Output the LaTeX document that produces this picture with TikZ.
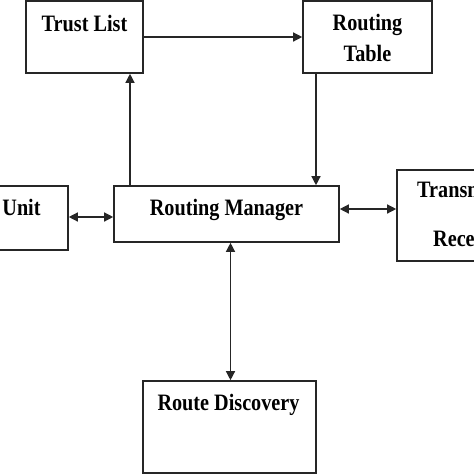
\documentclass[tikz,border=0pt]{standalone}
\usepackage{fontspec}
\setmainfont{Liberation Serif}
\usetikzlibrary{arrows.meta}
\newcommand{\lbltxt}[1]{\scalebox{0.86}[1]{#1}}
\tikzset{
  box/.style={draw=black!85, line width=1.6pt, rectangle, inner sep=0pt},
  lbl/.style={inner sep=0pt, font=\fontsize{23.5}{26}\selectfont\bfseries},
  conn/.style={draw=black!85, line width=1.3pt},
  arr/.style={conn, -{Triangle[length=9pt,width=9pt]}},
  darr/.style={conn, {Triangle[length=9pt,width=9pt]}-{Triangle[length=9pt,width=9pt]}}
}
\begin{document}
\begin{tikzpicture}[x=1pt,y=-1pt]
\useasboundingbox (0,0) rectangle (474,474);
\clip (0,0) rectangle (474,474);
\fill[white] (0,0) rectangle (474,474);
% boxes
\node[box, minimum width=117pt, minimum height=72pt] (tl) at (84.5,37) {};
\node[box, minimum width=129pt, minimum height=72pt] (rt) at (367.5,37) {};
\node[box, minimum width=225pt, minimum height=56pt] (rm) at (226.5,214) {};
\node[box, minimum width=93pt, minimum height=64pt] (un) at (21.5,218) {};
\node[box, minimum width=150pt, minimum height=91pt] (tr) at (472,215.5) {};
\node[box, minimum width=173pt, minimum height=92pt] (rd) at (229.5,427) {};
% labels
\node[lbl, anchor=base] (ttl) at (84.5,31) {\lbltxt{Trust List}};
\node[lbl, anchor=base] (trt1) at (367.5,30) {\lbltxt{Routing}};
\node[lbl, anchor=base] (trt2) at (367.5,61) {\lbltxt{Table}};
\node[lbl, anchor=base] (trm) at (226.5,215) {\lbltxt{Routing Manager}};
\node[lbl, anchor=base] (tun) at (21.5,215) {\lbltxt{Unit}};
\node[lbl, anchor=base west] (ttr1) at (417,197) {\lbltxt{Transm}};
\node[lbl, anchor=base west] (ttr2) at (433,246) {\lbltxt{Rece}};
\node[lbl, anchor=base] (trd) at (228.5,410) {\lbltxt{Route Discovery}};
% connectors
\draw[arr] (tl.east) -- (rt.west);
\draw[arr] (rm.north -| 130,0) -- (tl.south -| 130,0);
\draw[arr] (rt.south -| 316,0) -- (rm.north -| 316,0);
\draw[darr] (un.east |- 0,217) -- (rm.west |- 0,217);
\draw[darr] (rm.east |- 0,209) -- (tr.west |- 0,209);
\draw[darr] (rm.south -| 230.5,0) -- (rd.north -| 230.5,0);
\end{tikzpicture}
\end{document}
